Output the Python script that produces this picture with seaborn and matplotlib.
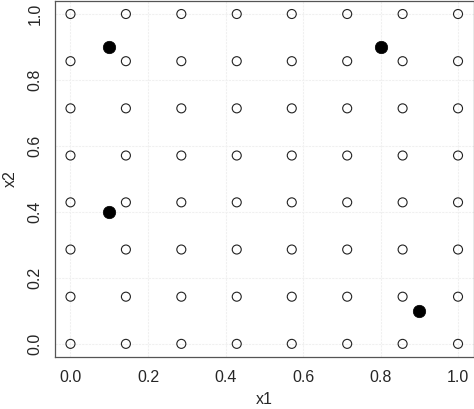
import itertools
import pandas as pd
import matplotlib
matplotlib.use("Agg")
import matplotlib.pyplot as plt
import seaborn as sns

# candidate grid levels (same for x1 and x2)
grid_levels = [0.0, 0.143, 0.286, 0.429, 0.571, 0.714, 0.857, 1.0]

# selected design points
sel_x1 = [0.1, 0.8, 0.1, 0.9]
sel_x2 = [0.9, 0.9, 0.4, 0.1]

tick_values = [0.0, 0.2, 0.4, 0.6, 0.8, 1.0]
tick_labels = ["0.0", "0.2", "0.4", "0.6", "0.8", "1.0"]

grid = pd.DataFrame(list(itertools.product(grid_levels, grid_levels)), columns=["x1", "x2"])
design = pd.DataFrame({"x1": sel_x1, "x2": sel_x2})

sns.set_style("white")
plt.rcParams["font.family"] = ["Liberation Sans", "DejaVu Sans"]

fig = plt.figure(figsize=(4.74, 4.09), dpi=100)
ax = fig.add_axes([0.116, 0.127, 0.883, 0.871])

# faint grid lines
for v in tick_values:
    ax.axvline(v, color="#f0f0f0", lw=0.8, ls=(0, (2, 1)), zorder=0)
    ax.axhline(v, color="#f0f0f0", lw=0.8, ls=(0, (2, 1)), zorder=0)

sns.scatterplot(data=grid, x="x1", y="x2", ax=ax, marker="o", s=42,
                facecolors="none", edgecolor="#222222", linewidth=0.8, zorder=2)
sns.scatterplot(data=design, x="x1", y="x2", ax=ax, marker="o", s=80,
                color="black", edgecolor="black", linewidth=0.5, zorder=3)

ax.set_xlim(-0.04, 1.04)
ax.set_ylim(-0.04, 1.04)
ax.set_xticks(tick_values)
ax.set_xticklabels(tick_labels, fontsize=11.5)
ax.set_yticks(tick_values)
ax.set_yticklabels(tick_labels, fontsize=11.5, rotation=90, va="center")
ax.tick_params(direction="out", length=5, width=0.8, color="#333333", pad=4)
ax.set_xlabel("x1", fontsize=11.5, labelpad=5)
ax.set_ylabel("x2", fontsize=11.5, labelpad=7)

for sp in ax.spines.values():
    sp.set_color("#555555")
    sp.set_linewidth(0.9)

fig.savefig("out.png", dpi=100)
